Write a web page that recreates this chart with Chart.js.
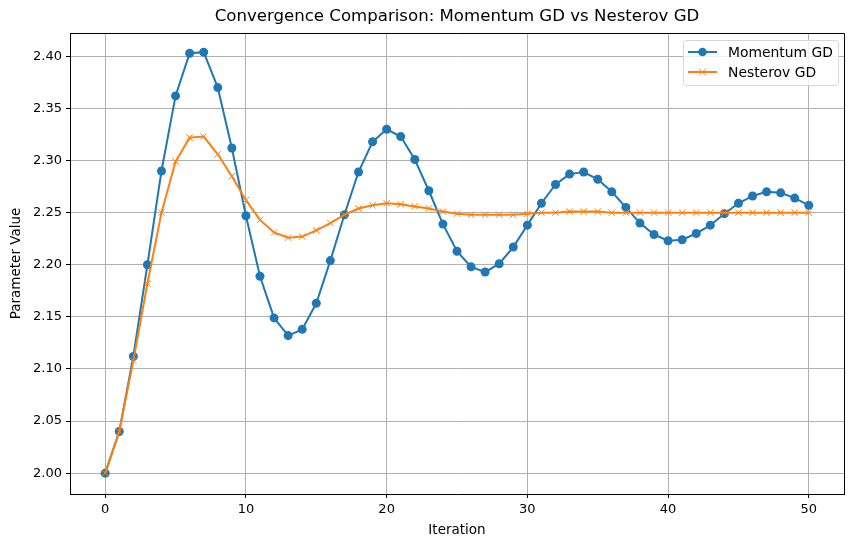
<!DOCTYPE html>
<html>
<head>
<title>Convergence Comparison</title>
<script src="https://cdn.jsdelivr.net/npm/chart.js@4.4.1/dist/chart.umd.min.js"></script>
<style>
  body { margin: 0; background: #ffffff; }
  #wrap { width: 855px; height: 547px; }
</style>
</head>
<body>
<div id="wrap"><canvas id="conv" width="855" height="547"></canvas></div>
<script>
// iterations 0..50
var iterations = [0,1,2,3,4,5,6,7,8,9,10,11,12,13,14,15,16,17,18,19,20,21,22,23,24,25,
  26,27,28,29,30,31,32,33,34,35,36,37,38,39,40,41,42,43,44,45,46,47,48,49,50];

var momentum = [2.000, 2.040, 2.112, 2.200, 2.290, 2.362, 2.403, 2.404, 2.370, 2.312, 2.247,
  2.189, 2.149, 2.132, 2.138, 2.163, 2.204, 2.248, 2.289, 2.318, 2.330,
  2.323, 2.301, 2.271, 2.239, 2.213, 2.198, 2.193, 2.201, 2.217, 2.238,
  2.259, 2.277, 2.287, 2.289, 2.282, 2.270, 2.255, 2.240, 2.229, 2.223,
  2.224, 2.230, 2.238, 2.249, 2.259, 2.266, 2.270, 2.269, 2.264, 2.257];

var nesterov = [2.000, 2.040, 2.108, 2.182, 2.250, 2.299, 2.322, 2.323, 2.306, 2.285, 2.262,
  2.243, 2.231, 2.226, 2.227, 2.233, 2.240, 2.248, 2.254, 2.257, 2.259,
  2.258, 2.256, 2.254, 2.251, 2.249, 2.248, 2.248, 2.248, 2.248, 2.249,
  2.250, 2.250, 2.251, 2.251, 2.251, 2.250, 2.250, 2.250, 2.250, 2.250,
  2.250, 2.250, 2.250, 2.250, 2.250, 2.250, 2.250, 2.250, 2.250, 2.250];

var xTicks = [0, 10, 20, 30, 40, 50];
var yTicks = [2.00, 2.05, 2.10, 2.15, 2.20, 2.25, 2.30, 2.35, 2.40];

var FONT = "'DejaVu Sans', sans-serif";

function pts(arr) {
  return arr.map(function (v, i) { return { x: iterations[i], y: v }; });
}

// title, top/right spines and matplotlib style legend box
var mplExtras = {
  id: 'mplExtras',
  afterDraw: function (chart) {
    var c = chart.ctx, a = chart.chartArea;
    c.save();
    c.strokeStyle = '#000';
    c.lineWidth = 1;
    c.beginPath();
    c.moveTo(a.left, a.top + 0.5);
    c.lineTo(a.right + 0.5, a.top + 0.5);
    c.lineTo(a.right + 0.5, a.bottom);
    c.stroke();

    c.fillStyle = '#000';
    c.font = '16.6px ' + FONT;
    c.textAlign = 'center';
    c.textBaseline = 'middle';
    c.fillText('Convergence Comparison: Momentum GD vs Nesterov GD', (a.left + a.right) / 2, 17);

    // legend
    var bx = 683, by = 40, bw = 155, bh = 45;
    c.beginPath();
    c.roundRect(bx + 0.5, by + 0.5, bw, bh, 3);
    c.fillStyle = 'rgba(255,255,255,0.8)';
    c.fill();
    c.strokeStyle = '#d6d6d6';
    c.stroke();

    var items = [
      { label: chart.data.datasets[0].label, color: '#1f77b4', marker: 'dot', y: 52 },
      { label: chart.data.datasets[1].label, color: '#ff7f0e', marker: 'x', y: 72 }
    ];
    items.forEach(function (it) {
      c.strokeStyle = it.color;
      c.lineWidth = 2;
      c.beginPath();
      c.moveTo(688, it.y);
      c.lineTo(717, it.y);
      c.stroke();
      if (it.marker === 'dot') {
        c.fillStyle = it.color;
        c.beginPath();
        c.arc(702.5, it.y, 4.3, 0, Math.PI * 2);
        c.fill();
      } else {
        c.lineWidth = 1;
        c.beginPath();
        c.moveTo(699, it.y - 3.5); c.lineTo(706, it.y + 3.5);
        c.moveTo(706, it.y - 3.5); c.lineTo(699, it.y + 3.5);
        c.stroke();
      }
      c.fillStyle = '#000';
      c.font = '13.9px ' + FONT;
      c.textAlign = 'left';
      c.textBaseline = 'middle';
      c.fillText(it.label, 728, it.y + 1);
    });
    c.restore();
  }
};

var chart = new Chart(document.getElementById('conv').getContext('2d'), {
  type: 'line',
  data: {
    datasets: [
      {
        label: 'Momentum GD',
        data: pts(momentum),
        borderColor: '#1f77b4',
        backgroundColor: '#1f77b4',
        borderWidth: 2,
        pointStyle: 'circle',
        pointRadius: 4.5,
        pointBorderWidth: 0,
        pointBackgroundColor: '#1f77b4',
        tension: 0,
        order: 1
      },
      {
        label: 'Nesterov GD',
        data: pts(nesterov),
        borderColor: '#ff7f0e',
        backgroundColor: '#ff7f0e',
        borderWidth: 2,
        pointStyle: 'crossRot',
        pointRadius: 4.5,
        pointBorderWidth: 1,
        pointBorderColor: '#ff7f0e',
        tension: 0,
        order: 0
      }
    ]
  },
  options: {
    responsive: false,
    animation: false,
    devicePixelRatio: 1,
    layout: { padding: { top: 33, right: 11, left: 0, bottom: 0 } },
    plugins: {
      legend: { display: false },
      title: { display: false },
      tooltip: { enabled: false }
    },
    scales: {
      x: {
        type: 'linear',
        min: -2.5,
        max: 52.5,
        afterBuildTicks: function (s) { s.ticks = xTicks.map(function (v) { return { value: v }; }); },
        afterFit: function (s) { s.height = 53; },
        ticks: { color: '#000', font: { family: FONT, size: 13 }, padding: 4, maxRotation: 0,
          callback: function (v) { return String(v); } },
        grid: { color: '#b0b0b0', lineWidth: 1, tickLength: 4, tickColor: '#000' },
        border: { display: true, color: '#000', width: 1 },
        title: { display: true, text: 'Iteration', color: '#000', font: { family: FONT, size: 13.5 }, padding: { top: 2, bottom: 8 } }
      },
      y: {
        type: 'linear',
        min: 1.980,
        max: 2.4224,
        afterBuildTicks: function (s) { s.ticks = yTicks.map(function (v) { return { value: v }; }); },
        afterFit: function (s) { s.width = 70; },
        ticks: { color: '#000', font: { family: FONT, size: 13 }, padding: 4,
          callback: function (v) { return Number(v).toFixed(2); } },
        grid: { color: '#b0b0b0', lineWidth: 1, tickLength: 4, tickColor: '#000' },
        border: { display: true, color: '#000', width: 1 },
        title: { display: true, text: 'Parameter Value', color: '#000', font: { family: FONT, size: 13.5 }, padding: { top: 8, bottom: 0 } }
      }
    }
  },
  plugins: [mplExtras]
});
</script>
</body>
</html>
